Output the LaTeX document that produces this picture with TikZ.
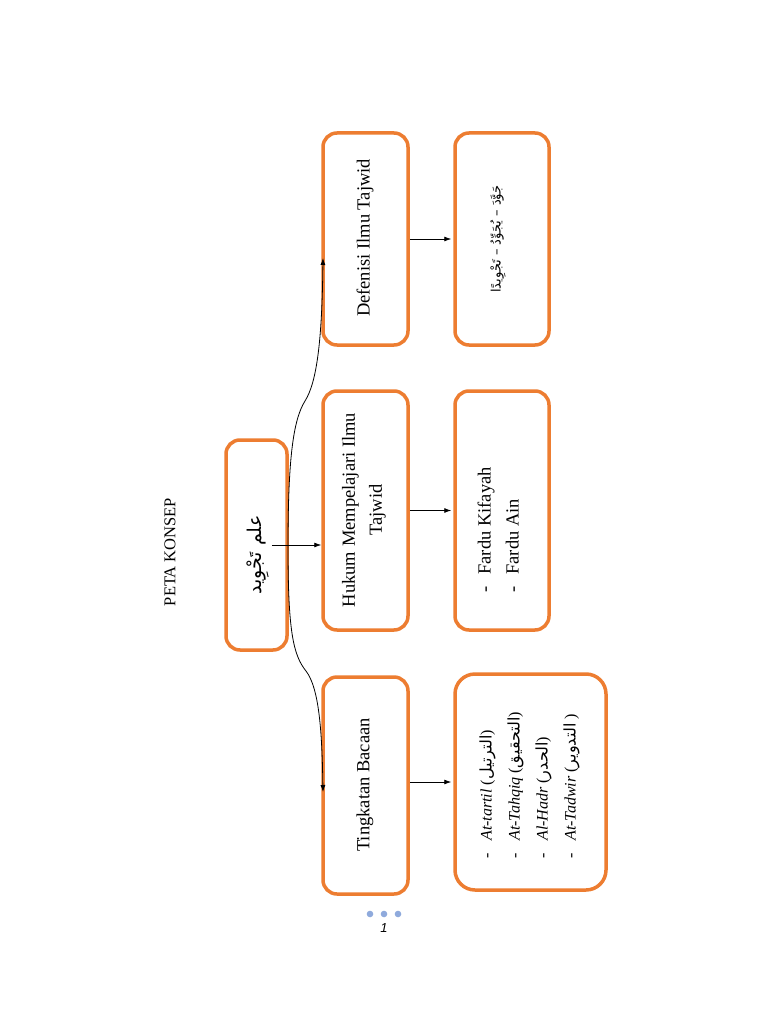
\documentclass[tikz,border=0pt]{standalone}
\usepackage{fontspec}
\setmainfont{Liberation Serif}
\setsansfont{Liberation Sans}
\newfontfamily\arabicfont[Script=Arabic]{DejaVu Sans}
\TeXXeTstate=1
\usetikzlibrary{arrows.meta}
\definecolor{konsep}{HTML}{ED7D31}
\definecolor{titik}{HTML}{8FAADC}
\newcommand{\arab}[1]{{\arabicfont\beginR #1\endR}}

\begin{document}
\begin{tikzpicture}[x=1pt,y=-1pt,
  kotak/.style={draw=konsep,line width=3.5pt,rounded corners=14pt,inner sep=0pt},
  teks/.style={rotate=90,font=\fontsize{18.5}{27}\selectfont,inner sep=0pt},
  panah/.style={-{Latex[length=7pt,width=5pt]},line width=0.8pt}]
\useasboundingbox[fill=white] (0,0) rectangle (768,1024);

\node[rotate=90,font=\fontsize{16.5}{20}\selectfont] (judul) at (170,552) {PETA KONSEP};

% kotak
\node[kotak,minimum width=61pt,minimum height=210pt] (ilmu) at (256.5,545) {};
\node[kotak,minimum width=85pt,minimum height=212pt] (defn) at (365.5,239) {};
\node[kotak,minimum width=85pt,minimum height=239pt] (hukum) at (365.5,510.5) {};
\node[kotak,minimum width=85pt,minimum height=217pt] (tingkat) at (365.5,785.5) {};
\node[kotak,minimum width=94pt,minimum height=212pt] (arti) at (502,239) {};
\node[kotak,minimum width=94pt,minimum height=239pt] (fardu) at (502,510.5) {};
\node[kotak,minimum width=151pt,minimum height=216pt,rounded corners=20pt] (bacaan) at (530.5,782) {};

% teks
\node[teks,font=\arabicfont\fontsize{19}{24}\selectfont] (ilmuteks) at (258,555) {\beginR علم تَجْوِيد\endR};
\node[teks] (defnteks) at (365,238) {Defenisi Ilmu Tajwid};
\node[teks,align=center] (hukumteks) at (364,510) {Hukum Mempelajari Ilmu\\Tajwid};
\node[teks] (tingkatteks) at (365,785) {Tingkatan Bacaan};
\node[teks,font=\arabicfont\fontsize{13}{16}\selectfont] (artiteks) at (498,239) {\beginR جَوَّدَ – يُجَوِّدُ – تَجْوِيدًا\endR};
\node[teks,font=\fontsize{18.5}{28}\selectfont] (farduteks) at (499,530) {\begin{tabular}{@{}l@{\hspace{12pt}}l@{}}
- & Fardu Kifayah\\
- & Fardu Ain
\end{tabular}};
\node[teks,font=\fontsize{16}{28}\selectfont] (bacaanteks) at (528,785) {\begin{tabular}{@{}l@{\hspace{12pt}}l@{}}
- & \textit{At-tartil} (\arab{الترتيل})\\
- & \textit{At-Tahqiq} (\arab{التحقيق})\\
- & \textit{Al-Hadr} (\arab{الحدر})\\
- & \textit{At-Tadwir} (\arab{التدوير} )
\end{tabular}};

% panah
\coordinate (pangkal) at (288,547);
\coordinate (atas) at (323,258);
\coordinate (bawah) at (323,792);
\draw[panah] (pangkal) .. controls (288,460) and (293,420) .. (305,401) .. controls (317,382) and (322,340) .. (atas);
\draw[panah] (pangkal) .. controls (288,630) and (293,655) .. (306,671) .. controls (319,688) and (322,730) .. (bawah);
\draw[panah] ([xshift=-17pt]ilmu.east) -- (ilmu.east -| hukum.west);
\draw[panah,shorten >=2pt] (defn.east) -- (arti.west);
\draw[panah,shorten >=2pt] (hukum.east) -- (hukum.east -| fardu.west);
\draw[panah,shorten >=2pt] (bacaan.west -| tingkat.east) -- (bacaan.west);

% nomor halaman
\foreach \x in {370,384,398} \fill[titik] (\x,914) circle[radius=3.3pt];
\node[font=\sffamily\itshape\fontsize{13}{15}\selectfont] (halaman) at (384,928) {1};
\end{tikzpicture}
\end{document}
